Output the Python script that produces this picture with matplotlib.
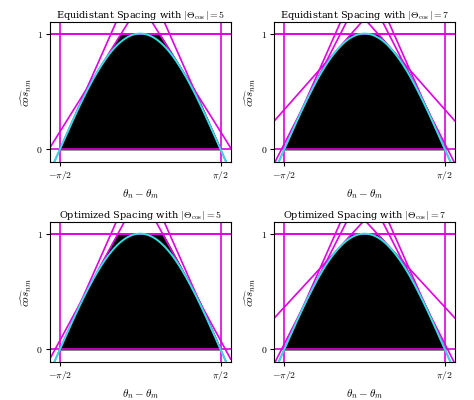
import numpy as np
import matplotlib
matplotlib.use("Agg")
import matplotlib.pyplot as plt

plt.rcParams['mathtext.fontset'] = 'cm'
plt.rcParams['font.family'] = ['DejaVu Serif']

titles = [r"Equidistant Spacing with $|\Theta_{\cos}|=5$",
          r"Equidistant Spacing with $|\Theta_{\cos}|=7$",
          r"Optimized Spacing with $|\Theta_{\cos}|=5$",
          r"Optimized Spacing with $|\Theta_{\cos}|=7$"]
h = np.pi / 2
tangent_points = [
    [-h, -np.pi/4, 0.0, np.pi/4, h],
    [-h, -np.pi/3, -np.pi/6, 0.0, np.pi/6, np.pi/3, h],
    [-h, -0.95, 0.0, 0.95, h],
    [-h, -1.05, -0.5, 0.0, 0.5, 1.05, h],
]
xlims = (-1.77, 1.77)
ylims = (-0.11, 1.1)

fig, axes = plt.subplots(2, 2, figsize=(4.74, 4.0), dpi=100)
x = np.linspace(xlims[0], xlims[1], 800)
for ax, title, pts in zip(axes.flat, titles, tangent_points):
    lines = [np.cos(p) - np.sin(p) * (x - p) for p in pts]
    env = np.min(np.vstack(lines + [np.ones_like(x)]), axis=0)
    mask = (x >= -h) & (x <= h)
    ax.fill_between(x[mask], 0, np.clip(env[mask], 0, 1), color='black', zorder=1)
    for ln in lines:
        ax.plot(x, ln, color='#e000e0', lw=1.2, zorder=2)
    ax.axhline(0, color='#e000e0', lw=1.2, zorder=2)
    ax.axhline(1, color='#e000e0', lw=1.2, zorder=2)
    ax.axvline(-h, color='#e000e0', lw=1.2, zorder=2)
    ax.axvline(h, color='#e000e0', lw=1.2, zorder=2)
    ax.plot(x, np.cos(x), color='#30e0e0', lw=1.4, zorder=3)
    ax.set_xlim(*xlims)
    ax.set_ylim(*ylims)
    ax.set_xticks([-h, h])
    ax.set_xticklabels([r"$-\pi/2$", r"$\pi/2$"], fontsize=7)
    ax.set_yticks([0, 1])
    ax.set_yticklabels([r"$0$", r"$1$"], fontsize=7)
    ax.tick_params(length=3, pad=2)
    ax.set_title(title, fontsize=7, pad=3)
    ax.set_xlabel(r"$\theta_n-\theta_m$", fontsize=8, labelpad=4)
    ax.set_ylabel(r"$\widehat{cos}_{nm}$", fontsize=8, labelpad=2)
fig.subplots_adjust(left=0.105, right=0.96, top=0.945, bottom=0.095, wspace=0.24, hspace=0.43)
fig.savefig("out.png", dpi=100)
